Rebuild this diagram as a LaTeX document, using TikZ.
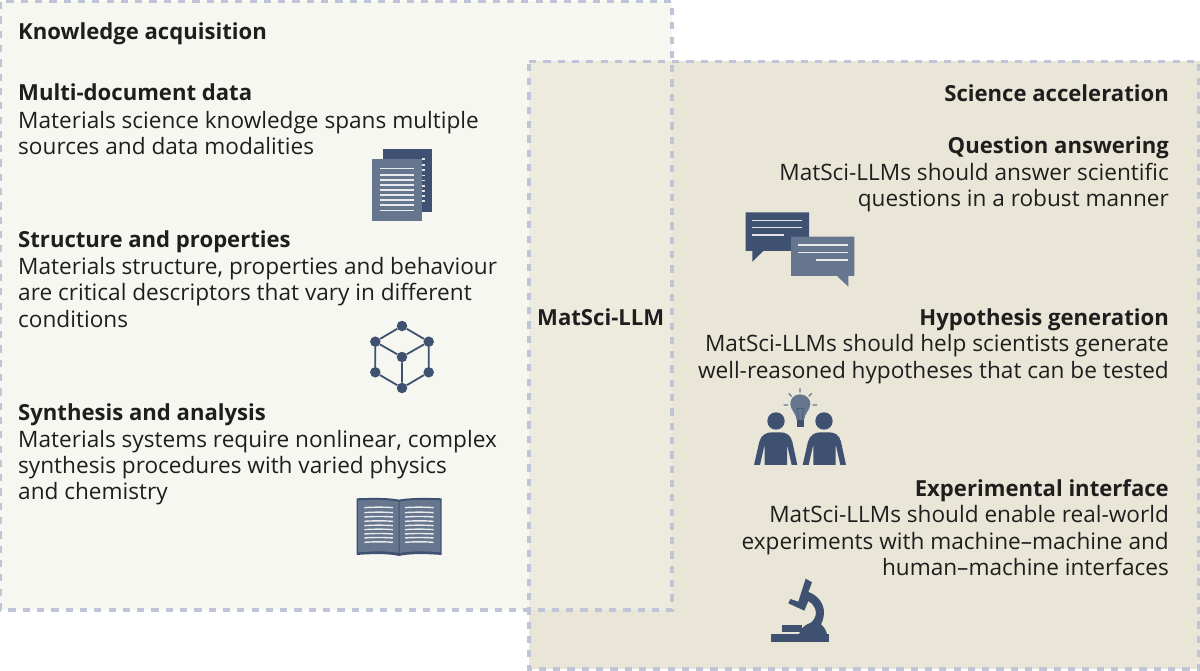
\documentclass[tikz,border=0pt]{standalone}
\usepackage{fontspec}
\setmainfont{Open Sans}
\definecolor{leftbg}{HTML}{F7F7F2}
\definecolor{rightbg}{HTML}{E9E6D8}
\definecolor{overlapbg}{HTML}{EDEADE}
\definecolor{dashc}{HTML}{BFC5D6}
\definecolor{ink}{HTML}{1E1E1E}
\definecolor{navy}{HTML}{3E5170}
\definecolor{slate}{HTML}{66768F}
\tikzset{
  x=1pt,y=-1pt,
  panelline/.style={draw=dashc,line width=3.7pt,dash pattern=on 7.2pt off 7.1pt},
  bodyl/.style={anchor=base west,inner sep=0pt,text=ink,font=\fontsize{22.6}{26}\selectfont},
  headl/.style={bodyl,font=\fontsize{22.1}{26}\selectfont\bfseries},
  bodyr/.style={bodyl,anchor=base east},
  headr/.style={headl,anchor=base east},
  zoomed/.style={x=0.3333pt,y=-0.3333pt},
  wline/.style={draw=white,line width=1.4pt,opacity=.85},
  cubeedge/.style={draw=navy,line width=1.8pt},
  cubedot/.style={fill=navy,circle,inner sep=0pt,minimum size=10.5pt}
}
\begin{document}
\begin{tikzpicture}
\useasboundingbox (0,0) rectangle (1200,671);
% panels
\fill[leftbg] (0,1) rectangle (672,610);
\fill[rightbg] (529,61) rectangle (1200,669);
\fill[overlapbg] (529,61) rectangle (672,610);
\draw[panelline] (0,610) -- (0,1.5) -- (672,1.5) -- (672,610) -- cycle;
\draw[panelline] (529,61.5) -- (1199,61.5) -- (1199,669) -- (529,669) -- cycle;
% left text
\node[headl] (ka) at (18,40) {Knowledge acquisition};
\node[headl] (md) at (18,101) {Multi-document data};
\node[bodyl] (md1) at (18,129) {Materials science knowledge spans multiple};
\node[bodyl] (md2) at (18,155) {sources and data modalities};
\node[headl] (sp) at (18,248) {Structure and properties};
\node[bodyl] (sp1) at (18,275) {Materials structure, properties and behaviour};
\node[bodyl] (sp2) at (18,301) {are critical descriptors that vary in different};
\node[bodyl] (sp3) at (18,327) {conditions};
\node[headl] (sa) at (18,420) {Synthesis and analysis};
\node[bodyl] (sa1) at (18,447) {Materials systems require nonlinear, complex};
\node[bodyl] (sa2) at (18,473) {synthesis procedures with varied physics};
\node[bodyl] (sa3) at (18,499) {and chemistry};
% centre
\node[headl] (ml) at (537,325) {MatSci-LLM};
% right text
\node[headr] (sc) at (1169,102) {Science acceleration};
\node[headr] (qa) at (1169,154) {Question answering};
\node[bodyr] (qa1) at (1169,181) {MatSci-LLMs should answer scientific};
\node[bodyr] (qa2) at (1169,207) {questions in a robust manner};
\node[headr] (hg) at (1169,325) {Hypothesis generation};
\node[bodyr] (hg1) at (1169,351) {MatSci-LLMs should help scientists generate};
\node[bodyr] (hg2) at (1169,378) {well-reasoned hypotheses that can be tested};
\node[headr] (ei) at (1169,496) {Experimental interface};
\node[bodyr] (ei1) at (1169,522) {MatSci-LLMs should enable real-world};
\node[bodyr] (ei2) at (1169,549) {experiments with machine–machine and};
\node[bodyr] (ei3) at (1169,575) {human–machine interfaces};
% document icon
\begin{scope}[shift={(340,140)},zoomed]
\fill[navy] (128,27) rectangle (275,216);
\foreach \y in {57,75,90,107,122,138,153,168,183} \draw[wline] (245,\y) -- (255,\y);
\fill[slate] (97,57) rectangle (245,244);
\foreach \y in {85,105,120,135,150,165,180,195,212} \draw[wline] (120,\y) -- (223,\y);
\end{scope}
% cube icon
\node[cubedot] (c1) at (402,326) {};
\node[cubedot] (c2) at (375.3,341.7) {};
\node[cubedot] (c3) at (428.7,341.7) {};
\node[cubedot] (c4) at (402,357) {};
\node[cubedot] (c5) at (375.3,372.3) {};
\node[cubedot] (c6) at (428.7,372.3) {};
\node[cubedot] (c7) at (402,388) {};
\draw[cubeedge] (c1)--(c2) (c1)--(c3) (c2)--(c4) (c3)--(c4) (c4)--(c7) (c2)--(c5) (c3)--(c6) (c5)--(c7) (c6)--(c7);
% book icon
\begin{scope}[shift={(340,485)},zoomed]
\fill[navy] (50,40) .. controls (100,38) and (150,38) .. (177,44) .. controls (205,38) and (255,38) .. (305,40) -- (305,210) .. controls (255,206) and (205,206) .. (177,213) .. controls (150,206) and (100,206) .. (50,210) -- cycle;
\fill[slate] (54,46) .. controls (100,44) and (150,44) .. (176,50) -- (176,204) .. controls (150,198) and (100,198) .. (54,202) -- cycle;
\fill[slate] (179,50) .. controls (205,44) and (255,44) .. (301,46) -- (301,202) .. controls (255,198) and (205,198) .. (179,204) -- cycle;
\foreach \y in {68,83,96,109,122,134,147,159,172} {
  \draw[wline] (73,\y) .. controls (100,\y-2) and (135,\y-2) .. (159,\y);
  \draw[wline] (195,\y) .. controls (220,\y-2) and (255,\y-2) .. (281,\y);
}
\end{scope}
% speech icon
\begin{scope}[shift={(735,200)},zoomed]
\fill[navy] (32,37) -- (222,37) -- (222,153) -- (85,153) -- (52,185) -- (52,153) -- (32,153) -- cycle;
\draw[wline] (52,62) -- (200,62);
\draw[wline] (52,83) -- (200,83);
\draw[wline] (52,105) -- (146,105);
\fill[slate] (168,110) -- (358,110) -- (358,228) -- (340,228) -- (340,260) -- (306,228) -- (168,228) -- cycle;
\draw[wline] (190,135) -- (340,135);
\draw[wline] (190,158) -- (340,158);
\draw[wline] (244,180) -- (340,180);
\end{scope}
% people icon
\begin{scope}[shift={(740,385)},zoomed]
\fill[navy] (108,108) circle [radius=8.7pt];
\fill[navy] (252,108) circle [radius=8.7pt];
\foreach \dx in {0,146} {
\begin{scope}[xshift=\dx*0.3333pt]
\fill[navy] (42,240) -- (58,170) .. controls (63,150) and (80,142) .. (95,142) -- (122,142) .. controls (138,142) and (152,150) .. (157,170) -- (172,240) -- (155,240) -- (141,178) -- (141,240) -- (74,240) -- (74,178) -- (60,240) -- cycle;
\end{scope}
}
\fill[slate] (180,28) .. controls (160,28) and (150,44) .. (151,58) .. controls (152,75) and (168,85) .. (170,105) -- (192,105) .. controls (194,85) and (210,75) .. (211,58) .. controls (212,44) and (200,28) .. (180,28) -- cycle;
\fill[navy] (170,105) rectangle (192,125);
\draw[navy,line width=.5pt] (172,70) -- (176,105) (190,70) -- (186,105) (170,70) -- (192,70);
\draw[slate,line width=1.2pt] (180,10) -- (180,22) (146,25) -- (155,34) (215,25) -- (206,34) (131,60) -- (144,60) (218,60) -- (231,60);
\end{scope}
% microscope icon
\begin{scope}[shift={(755,570)},zoomed]
\fill[navy] (48,193) rectangle (222,215);
\fill[navy] (82,165) rectangle (142,185);
\fill[navy] (152,26) -- (171,37) -- (160,66) .. controls (190,76) and (208,103) .. (207,130) .. controls (206,145) and (202,155) .. (198,163) .. controls (208,172) and (214,182) .. (216,193) -- (132,193) .. controls (136,175) and (150,164) .. (168,158) .. controls (182,146) and (186,130) .. (180,115) .. controls (176,105) and (168,97) .. (160,93) -- (148,122) -- (100,100) -- (106,87) -- (130,95) -- cycle;
\end{scope}
\end{tikzpicture}
\end{document}
